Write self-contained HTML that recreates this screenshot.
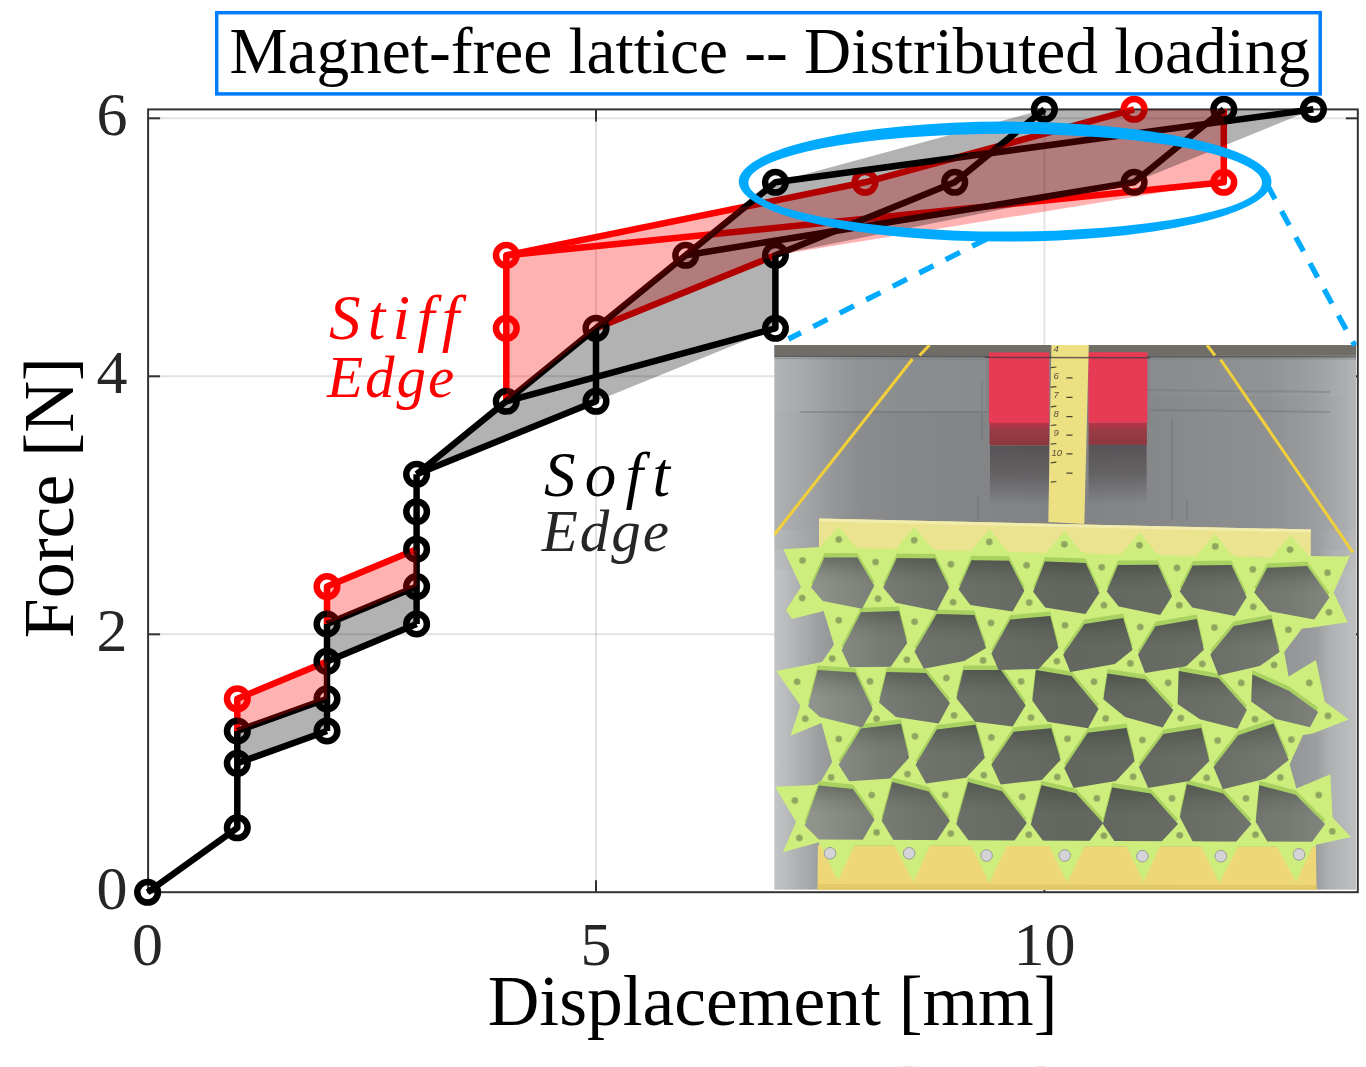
<!DOCTYPE html>
<html><head><meta charset="utf-8"><title>Magnet-free lattice -- Distributed loading</title>
<style>html,body{margin:0;padding:0;background:#fff;overflow:hidden}svg{display:block}</style></head>
<body>
<svg width="1366" height="1067" viewBox="0 0 1366 1067">
<rect width="1366" height="1067" fill="#fff"/>
<g stroke="#262626" stroke-opacity="0.13" stroke-width="2" fill="none">
<line x1="596.0" y1="109.4" x2="596.0" y2="892.2"/>
<line x1="1044.4" y1="109.4" x2="1044.4" y2="892.2"/>
<line x1="148.1" y1="634.3" x2="1357.8" y2="634.3"/>
<line x1="148.1" y1="376.3" x2="1357.8" y2="376.3"/>
<line x1="148.1" y1="118.3" x2="1357.8" y2="118.3"/>
</g>
<g stroke="#333" stroke-width="2" fill="none">
<rect x="148.1" y="109.4" width="1209.7" height="782.8000000000001"/>
<line x1="596.0" y1="892.2" x2="596.0" y2="880.2"/>
<line x1="596.0" y1="109.4" x2="596.0" y2="121.4"/>
<line x1="1044.4" y1="892.2" x2="1044.4" y2="880.2"/>
<line x1="1044.4" y1="109.4" x2="1044.4" y2="121.4"/>
<line x1="148.1" y1="634.3" x2="160.1" y2="634.3"/>
<line x1="1357.8" y1="634.3" x2="1345.8" y2="634.3"/>
<line x1="148.1" y1="376.3" x2="160.1" y2="376.3"/>
<line x1="1357.8" y1="376.3" x2="1345.8" y2="376.3"/>
<line x1="148.1" y1="118.3" x2="160.1" y2="118.3"/>
<line x1="1357.8" y1="118.3" x2="1345.8" y2="118.3"/>
</g>
<g stroke="#f00" stroke-width="6.5" fill="none" stroke-linejoin="round" stroke-linecap="butt">
<polyline points="237.3,731.0 237.3,698.8 327.0,661.4"/>
<polyline points="327.0,624.0 327.0,586.6 416.6,549.2"/>
<polyline points="506.3,401.3 506.3,255.3 865.0,182.3 1134.1,109.3"/>
<polyline points="506.3,255.3 1223.8,182.3 1223.8,109.3"/>
<polyline points="596.0,328.3 775.4,255.3"/>
<circle cx="237.3" cy="698.8" r="10.3"/>
<circle cx="327.0" cy="586.6" r="10.3"/>
<circle cx="506.3" cy="328.3" r="10.3"/>
<circle cx="506.3" cy="255.3" r="10.3"/>
<circle cx="865.0" cy="182.3" r="10.3"/>
<circle cx="1134.1" cy="109.3" r="10.3"/>
<circle cx="1223.8" cy="182.3" r="10.3"/>
</g>
<g stroke="#000" stroke-width="6.5" fill="none" stroke-linejoin="round" stroke-linecap="butt">
<polyline points="147.6,892.3 237.3,827.8 237.3,731.0"/>
<polyline points="237.3,763.3 327.0,731.0"/>
<polyline points="237.3,731.0 327.0,698.8"/>
<polyline points="327.0,731.0 327.0,624.0"/>
<polyline points="327.0,661.4 416.6,624.0"/>
<polyline points="327.0,624.0 416.6,586.6"/>
<polyline points="416.6,624.0 416.6,474.3"/>
<polyline points="416.6,474.3 506.3,401.3 596.0,328.3 685.7,255.3 775.4,182.3 1313.4,109.3"/>
<polyline points="416.6,474.3 596.0,401.3 596.0,328.3"/>
<polyline points="506.3,401.3 775.4,328.3 775.4,255.3 954.7,182.3 1044.4,109.3"/>
<polyline points="685.7,255.3 1134.1,182.3 1223.8,109.3"/>
<circle cx="147.6" cy="892.3" r="10.3"/>
<circle cx="237.3" cy="827.8" r="10.3"/>
<circle cx="237.3" cy="763.3" r="10.3"/>
<circle cx="237.3" cy="731.0" r="10.3"/>
<circle cx="327.0" cy="731.0" r="10.3"/>
<circle cx="327.0" cy="698.8" r="10.3"/>
<circle cx="327.0" cy="661.4" r="10.3"/>
<circle cx="327.0" cy="624.0" r="10.3"/>
<circle cx="416.6" cy="624.0" r="10.3"/>
<circle cx="416.6" cy="586.6" r="10.3"/>
<circle cx="416.6" cy="549.2" r="10.3"/>
<circle cx="416.6" cy="511.7" r="10.3"/>
<circle cx="416.6" cy="474.3" r="10.3"/>
<circle cx="506.3" cy="401.3" r="10.3"/>
<circle cx="596.0" cy="401.3" r="10.3"/>
<circle cx="596.0" cy="328.3" r="10.3"/>
<circle cx="685.7" cy="255.3" r="10.3"/>
<circle cx="775.4" cy="328.3" r="10.3"/>
<circle cx="775.4" cy="255.3" r="10.3"/>
<circle cx="775.4" cy="182.3" r="10.3"/>
<circle cx="954.7" cy="182.3" r="10.3"/>
<circle cx="1044.4" cy="109.3" r="10.3"/>
<circle cx="1134.1" cy="182.3" r="10.3"/>
<circle cx="1223.8" cy="109.3" r="10.3"/>
<circle cx="1313.4" cy="109.3" r="10.3"/>
</g>
<clipPath id="axc"><rect x="148.1" y="109.4" width="1209.7" height="782.8000000000001"/></clipPath>
<polygon points="237.3,731.0 237.3,698.8 327.0,661.4 327.0,586.6 416.6,549.2 416.6,474.3 506.3,401.3 506.3,255.3 865.0,182.3 1134.1,109.3 1223.8,109.3 1223.8,182.3 775.4,255.3 596.0,328.3 506.3,401.3 416.6,474.3 416.6,586.6 327.0,624.0 327.0,698.8" fill="#f00" fill-opacity="0.3" clip-path="url(#axc)"/>
<polygon points="147.6,892.3 237.3,827.8 237.3,731.0 327.0,698.8 327.0,624.0 416.6,586.6 416.6,474.3 506.3,401.3 596.0,328.3 685.7,255.3 775.4,182.3 1044.4,109.3 1313.4,109.3 1134.1,182.3 775.4,255.3 775.4,328.3 596.0,401.3 416.6,474.3 416.6,624.0 327.0,661.4 327.0,731.0 237.3,763.3 237.3,827.8" fill="#000" fill-opacity="0.3" clip-path="url(#axc)"/>
<defs>
<clipPath id="pc"><rect x="774.2" y="345.1" width="581.8999999999999" height="544.6999999999999"/></clipPath>
<linearGradient id="bgx" x1="0" y1="0" x2="1" y2="0"><stop offset="0.0" stop-color="rgb(175,177,179)"/><stop offset="0.0272" stop-color="rgb(168,170,172)"/><stop offset="0.0546" stop-color="rgb(163,165,167)"/><stop offset="0.0959" stop-color="rgb(150,152,154)"/><stop offset="0.1474" stop-color="rgb(138,140,142)"/><stop offset="0.2162" stop-color="rgb(133,135,137)"/><stop offset="0.3399" stop-color="rgb(131,133,135)"/><stop offset="0.4911" stop-color="rgb(128,130,132)"/><stop offset="0.6458" stop-color="rgb(133,135,137)"/><stop offset="0.7317" stop-color="rgb(137,139,141)"/><stop offset="0.852" stop-color="rgb(142,144,146)"/><stop offset="0.9036" stop-color="rgb(150,152,154)"/><stop offset="0.938" stop-color="rgb(157,159,161)"/><stop offset="0.9809" stop-color="rgb(170,172,174)"/><stop offset="1.0" stop-color="rgb(180,182,184)"/></linearGradient>
<linearGradient id="hg" gradientUnits="userSpaceOnUse" x1="800" y1="0" x2="1330" y2="0"><stop offset="0.0" stop-color="rgb(146,150,143)"/><stop offset="0.0245" stop-color="rgb(144,148,141)"/><stop offset="0.0755" stop-color="rgb(134,138,131)"/><stop offset="0.1509" stop-color="rgb(120,124,117)"/><stop offset="0.2453" stop-color="rgb(110,114,107)"/><stop offset="0.3585" stop-color="rgb(105,109,102)"/><stop offset="0.5019" stop-color="rgb(98,102,95)"/><stop offset="0.6415" stop-color="rgb(101,105,98)"/><stop offset="0.783" stop-color="rgb(107,111,104)"/><stop offset="0.9245" stop-color="rgb(118,122,115)"/><stop offset="1.0" stop-color="rgb(130,134,127)"/></linearGradient>
<linearGradient id="rbf" x1="0" y1="0" x2="0" y2="1"><stop offset="0" stop-color="#bb3349"/><stop offset="0.3" stop-color="#9b3a44"/><stop offset="1" stop-color="#8c373e"/></linearGradient>
<linearGradient id="shd" x1="0" y1="0" x2="0" y2="1"><stop offset="0" stop-color="#3a3034" stop-opacity="0.6"/><stop offset="0.5" stop-color="#3c3436" stop-opacity="0.42"/><stop offset="1" stop-color="#40383a" stop-opacity="0"/></linearGradient>
<linearGradient id="lol" x1="0" y1="0" x2="1" y2="0"><stop offset="0" stop-color="#fff" stop-opacity="0.27"/><stop offset="0.28" stop-color="#fff" stop-opacity="0.2"/><stop offset="0.6" stop-color="#fff" stop-opacity="0.09"/><stop offset="1" stop-color="#fff" stop-opacity="0"/></linearGradient>
<linearGradient id="lor" x1="0" y1="0" x2="1" y2="0"><stop offset="0" stop-color="#fff" stop-opacity="0"/><stop offset="0.35" stop-color="#fff" stop-opacity="0"/><stop offset="0.6" stop-color="#fff" stop-opacity="0.16"/><stop offset="1" stop-color="#fff" stop-opacity="0.16"/></linearGradient>
<linearGradient id="hsh" x1="0" y1="0" x2="0" y2="1"><stop offset="0" stop-color="#1c2418" stop-opacity="0.3"/><stop offset="0.3" stop-color="#1c2418" stop-opacity="0.08"/><stop offset="0.5" stop-color="#1c2418" stop-opacity="0"/></linearGradient>
</defs>
<g clip-path="url(#pc)">
<rect x="774.2" y="345.1" width="581.8999999999999" height="544.6999999999999" fill="url(#bgx)"/>
<rect x="774.2" y="530" width="44" height="359.79999999999995" fill="url(#lol)" opacity="0.33"/>
<rect x="1295" y="530" width="61.09999999999991" height="359.79999999999995" fill="url(#lor)" opacity="0.33"/>
<rect x="774.2" y="550" width="44" height="339.79999999999995" fill="url(#lol)" opacity="0.33"/>
<rect x="1295" y="550" width="61.09999999999991" height="339.79999999999995" fill="url(#lor)" opacity="0.33"/>
<rect x="774.2" y="570" width="44" height="319.79999999999995" fill="url(#lol)" opacity="0.34"/>
<rect x="1295" y="570" width="61.09999999999991" height="319.79999999999995" fill="url(#lor)" opacity="0.34"/>
<rect x="774.2" y="345.1" width="581.8999999999999" height="10.6" fill="#706d67"/>
<line x1="774.2" y1="356.3" x2="1356.1" y2="356.9" stroke="#5a5a5c" stroke-width="1.4"/>
<line x1="774.2" y1="358.4" x2="1356.1" y2="359" stroke="#85878b" stroke-width="1.2" opacity="0.7"/>
<g stroke="#6a6b70" stroke-width="2" opacity="0.35">
<line x1="800" y1="412" x2="990" y2="412"/><line x1="1140" y1="390" x2="1330" y2="392"/><line x1="1150" y1="410" x2="1330" y2="412"/>
<line x1="982" y1="380" x2="982" y2="440"/><line x1="978" y1="495" x2="978" y2="520"/><line x1="1172" y1="420" x2="1172" y2="520"/><line x1="1187" y1="500" x2="1187" y2="520"/>
</g>
<rect x="774" y="360" width="212" height="51" fill="#c9ccd0" opacity="0.1"/>
<rect x="1150" y="360" width="207" height="36" fill="#c9ccd0" opacity="0.06"/>
<g stroke="#f1d03a" stroke-width="3" stroke-linecap="butt">
<line x1="929.6" y1="345" x2="919.5" y2="355.5"/><line x1="912.5" y1="359" x2="774" y2="535"/>
<line x1="1207" y1="345" x2="1215" y2="355.5"/><line x1="1220.5" y1="359.5" x2="1353" y2="552.5"/>
</g>
<rect x="988.9" y="352.4" width="60.4" height="70.6" fill="#e63a55"/>
<rect x="989.6" y="422.8" width="59.5" height="22.4" fill="url(#rbf)"/>
<rect x="1088.4" y="352.2" width="59" height="70.6" fill="#e63a55"/>
<rect x="1088.6" y="422.8" width="58.3" height="22" fill="url(#rbf)"/>
<rect x="990" y="445.5" width="59" height="60" fill="url(#shd)"/>
<rect x="1088.6" y="444.8" width="58" height="60" fill="url(#shd)"/>
<polygon points="1051.4,345.0 1088.8,345.0 1084.3,524.0 1048.3,522.0" fill="#ede083"/>
<g font-family="'Liberation Sans', sans-serif" font-size="9.5" fill="#55503a" font-style="italic">
<text x="1053.5" y="352">4</text>
<text x="1053.5" y="378.5">6</text>
<text x="1053.5" y="398">7</text>
<text x="1053.5" y="417">8</text>
<text x="1053.5" y="436">9</text>
<text x="1051.5" y="455.5">10</text>
</g>
<g stroke="#4a452f" stroke-width="1.2">
<line x1="1050.8" y1="367.6" x2="1056.4" y2="367.0"/>
<line x1="1050.8" y1="387.2" x2="1056.4" y2="386.59999999999997"/>
<line x1="1050.8" y1="406.8" x2="1056.4" y2="406.2"/>
<line x1="1050.8" y1="425.5" x2="1056.4" y2="424.9"/>
<line x1="1050.8" y1="444.1" x2="1056.4" y2="443.5"/>
<line x1="1050.8" y1="462.8" x2="1056.4" y2="462.2"/>
<line x1="1050.8" y1="482.1" x2="1056.4" y2="481.5"/>
<line x1="1066.4" y1="377.9" x2="1072.5" y2="377.9"/>
<line x1="1066.4" y1="397.3" x2="1072.5" y2="397.3"/>
<line x1="1066.4" y1="416.6" x2="1072.5" y2="416.6"/>
<line x1="1066.4" y1="435.2" x2="1072.5" y2="435.2"/>
<line x1="1066.4" y1="453.9" x2="1072.5" y2="453.9"/>
<line x1="1066.4" y1="473.2" x2="1072.5" y2="473.2"/>
</g>
<line x1="985" y1="357.4" x2="1150" y2="357.8" stroke="#4b3a40" stroke-width="1.4" opacity="0.8"/>
<polygon points="819.0,518.6 1310.8,529.5 1310.8,558.5 819.0,550.6" fill="#ebe390"/>
<polygon points="819.0,518.6 1310.8,529.5 1310.8,532.5 819.0,521.6" fill="#f2ecad"/>
<polygon points="817.9,845.5 1315.9,846.5 1316.5,890.0 817.5,890.0" fill="#edd777"/>
<polygon points="817.9,884.0 1316.3,885.0 1316.5,890.0 817.5,890.0" fill="#e3c968"/>
<polygon points="819.7,547.0 838.6,526.8 852.5,543.5 858.0,548.2 896.0,549.0 914.2,526.4 931.0,547.0 936.0,550.0 971.0,551.0 989.4,529.0 1006.0,549.5 1011.0,552.0 1046.0,553.0 1064.6,531.0 1081.0,551.5 1086.0,553.6 1121.0,554.4 1139.6,532.6 1156.0,553.0 1161.0,555.2 1196.0,556.0 1215.2,534.0 1231.0,554.6 1236.0,556.8 1271.0,557.6 1290.6,535.6 1309.3,556.0 1345.0,556.4 1350.2,555.2 1333.6,592.6 1347.8,622.2 1310.6,627.8 1302.0,628.5 1284.2,652.0 1288.6,676.6 1316.0,660.0 1324.8,701.8 1348.8,719.4 1312.8,733.6 1303.0,735.0 1289.6,764.4 1296.4,788.6 1330.4,774.2 1332.6,817.4 1351.0,837.0 1316.0,844.8 1313.7,844.0 1296.1,882.0 1276.3,845.0 1239.0,845.0 1219.2,883.0 1200.6,845.0 1161.0,844.2 1143.5,882.0 1125.9,844.8 1086.0,844.0 1067.0,882.6 1048.5,844.0 1007.9,843.8 989.2,883.0 970.6,844.6 931.0,842.8 913.5,882.0 893.7,844.2 856.4,841.6 837.7,880.8 819.0,842.2 782.8,852.2 796.0,822.0 775.1,786.8 813.8,785.0 820.0,783.0 832.2,762.0 821.5,723.0 790.5,735.7 800.4,705.5 776.2,670.9 814.6,663.4 822.0,662.0 834.0,644.4 823.6,611.0 792.0,619.0 786.0,610.0 801.0,587.0 783.3,549.2" fill="#cdee7c"/>
<polygon points="824.4,553.1 857.4,553.1 874.3,581.2 862.1,604.2 822.8,596.4 811.1,583.0" fill="#a9d162"/>
<polygon points="896.8,553.6 935.1,554.1 949.1,582.9 936.7,606.5 895.7,598.2 883.2,582.9" fill="#a9d162"/>
<polygon points="971.5,555.8 1009.1,556.2 1024.4,586.3 1012.6,606.9 970.3,600.4 958.6,585.1" fill="#a9d162"/>
<polygon points="1044.9,556.9 1085.7,558.4 1099.5,588.3 1085.5,609.4 1045.2,602.9 1033.1,587.2" fill="#a9d162"/>
<polygon points="1117.9,560.5 1157.8,560.2 1172.0,591.7 1160.2,610.4 1118.7,602.0 1106.7,587.0" fill="#a9d162"/>
<polygon points="1192.7,561.1 1231.4,560.4 1246.7,592.8 1234.9,611.6 1192.2,603.0 1179.7,587.0" fill="#a9d162"/>
<polygon points="1267.2,563.3 1307.1,561.4 1329.5,592.7 1314.2,615.0 1269.5,606.6 1254.2,587.8" fill="#a9d162"/>
<polygon points="861.0,607.8 899.0,606.4 907.2,638.4 890.7,662.3 849.7,662.8 841.6,645.4" fill="#a9d162"/>
<polygon points="936.7,609.4 974.4,610.6 986.1,643.4 964.2,656.4 923.8,664.2 914.5,647.0" fill="#a9d162"/>
<polygon points="1010.3,615.1 1050.2,611.5 1058.4,643.2 1038.5,664.4 998.5,665.6 991.4,649.1" fill="#a9d162"/>
<polygon points="1084.4,619.4 1123.1,613.5 1132.6,645.3 1114.9,659.4 1070.3,667.6 1063.2,650.0" fill="#a9d162"/>
<polygon points="1155.6,621.7 1196.8,614.6 1203.9,645.2 1186.2,661.7 1145.1,668.6 1138.0,649.9" fill="#a9d162"/>
<polygon points="1233.8,621.6 1271.5,614.6 1279.6,647.5 1259.7,661.6 1218.5,670.9 1210.3,649.9" fill="#a9d162"/>
<polygon points="817.6,665.5 855.2,667.9 872.8,705.0 862.3,723.1 819.9,712.5 808.2,701.9" fill="#a9d162"/>
<polygon points="886.5,667.5 926.0,668.4 949.9,698.5 938.7,719.1 895.9,712.6 879.0,698.1" fill="#a9d162"/>
<polygon points="963.4,665.6 1001.0,665.6 1025.7,700.8 1012.7,722.0 975.2,717.3 956.4,693.8" fill="#a9d162"/>
<polygon points="1035.9,665.5 1071.6,671.4 1098.6,704.2 1088.1,723.7 1047.5,717.2 1032.3,696.0" fill="#a9d162"/>
<polygon points="1107.5,669.0 1145.2,674.8 1173.3,705.4 1162.7,723.0 1125.2,712.4 1103.3,694.8" fill="#a9d162"/>
<polygon points="1178.8,666.6 1218.7,673.7 1246.9,705.3 1237.5,724.2 1199.9,714.7 1177.6,699.4" fill="#a9d162"/>
<polygon points="1252.4,670.0 1288.8,686.3 1318.2,707.5 1310.0,722.8 1275.8,714.6 1251.2,696.9" fill="#a9d162"/>
<polygon points="861.0,723.9 900.9,719.2 909.1,753.2 890.3,774.0 849.2,776.8 838.6,760.3" fill="#a9d162"/>
<polygon points="936.7,725.0 975.5,720.3 984.9,753.2 966.1,773.2 926.1,779.1 915.6,760.2" fill="#a9d162"/>
<polygon points="1013.7,727.3 1051.2,723.7 1060.6,755.4 1041.8,775.4 1000.7,780.1 991.3,760.1" fill="#a9d162"/>
<polygon points="1087.8,728.3 1126.5,723.6 1134.7,756.5 1115.9,776.5 1073.6,783.5 1064.2,763.5" fill="#a9d162"/>
<polygon points="1163.5,729.5 1201.2,723.6 1209.4,756.5 1189.4,776.5 1148.2,783.5 1138.9,762.4" fill="#a9d162"/>
<polygon points="1238.2,730.8 1273.4,719.0 1288.7,755.4 1265.3,774.2 1222.9,784.8 1213.5,762.4" fill="#a9d162"/>
<polygon points="818.8,781.0 852.9,784.4 874.5,815.0 862.3,836.2 820.0,836.2 804.7,820.9" fill="#a9d162"/>
<polygon points="892.3,777.4 928.7,786.9 949.9,816.2 935.7,837.4 894.6,837.4 881.7,816.2" fill="#a9d162"/>
<polygon points="968.1,777.4 1002.1,786.8 1026.8,818.4 1012.7,838.5 970.5,838.5 956.3,819.6" fill="#a9d162"/>
<polygon points="1041.5,780.8 1075.8,788.8 1103.2,818.4 1088.0,838.4 1044.7,838.4 1030.8,819.9" fill="#a9d162"/>
<polygon points="1112.2,783.0 1150.9,788.9 1178.0,819.5 1160.3,838.4 1115.7,838.4 1102.8,819.5" fill="#a9d162"/>
<polygon points="1186.9,779.7 1223.3,789.0 1251.5,819.6 1235.0,838.5 1192.8,837.3 1179.8,812.6" fill="#a9d162"/>
<polygon points="1259.3,780.8 1295.6,790.2 1325.1,819.6 1312.1,837.2 1267.5,837.2 1255.7,817.2" fill="#a9d162"/>
<polygon points="824.4,557.6 857.4,557.6 874.3,585.7 862.1,608.7 822.8,600.9 811.1,587.5" fill="url(#hg)"/><polygon points="824.4,557.6 857.4,557.6 874.3,585.7 862.1,608.7 822.8,600.9 811.1,587.5" fill="url(#hsh)"/>
<polygon points="896.8,558.1 935.1,558.6 949.1,587.4 936.7,611.0 895.7,602.7 883.2,587.4" fill="url(#hg)"/><polygon points="896.8,558.1 935.1,558.6 949.1,587.4 936.7,611.0 895.7,602.7 883.2,587.4" fill="url(#hsh)"/>
<polygon points="971.5,560.3 1009.1,560.7 1024.4,590.8 1012.6,611.4 970.3,604.9 958.6,589.6" fill="url(#hg)"/><polygon points="971.5,560.3 1009.1,560.7 1024.4,590.8 1012.6,611.4 970.3,604.9 958.6,589.6" fill="url(#hsh)"/>
<polygon points="1044.9,561.4 1085.7,562.9 1099.5,592.8 1085.5,613.9 1045.2,607.4 1033.1,591.7" fill="url(#hg)"/><polygon points="1044.9,561.4 1085.7,562.9 1099.5,592.8 1085.5,613.9 1045.2,607.4 1033.1,591.7" fill="url(#hsh)"/>
<polygon points="1117.9,565.0 1157.8,564.7 1172.0,596.2 1160.2,614.9 1118.7,606.5 1106.7,591.5" fill="url(#hg)"/><polygon points="1117.9,565.0 1157.8,564.7 1172.0,596.2 1160.2,614.9 1118.7,606.5 1106.7,591.5" fill="url(#hsh)"/>
<polygon points="1192.7,565.6 1231.4,564.9 1246.7,597.3 1234.9,616.1 1192.2,607.5 1179.7,591.5" fill="url(#hg)"/><polygon points="1192.7,565.6 1231.4,564.9 1246.7,597.3 1234.9,616.1 1192.2,607.5 1179.7,591.5" fill="url(#hsh)"/>
<polygon points="1267.2,567.8 1307.1,565.9 1329.5,597.2 1314.2,619.5 1269.5,611.1 1254.2,592.3" fill="url(#hg)"/><polygon points="1267.2,567.8 1307.1,565.9 1329.5,597.2 1314.2,619.5 1269.5,611.1 1254.2,592.3" fill="url(#hsh)"/>
<polygon points="861.0,612.3 899.0,610.9 907.2,642.9 890.7,666.8 849.7,667.3 841.6,649.9" fill="url(#hg)"/><polygon points="861.0,612.3 899.0,610.9 907.2,642.9 890.7,666.8 849.7,667.3 841.6,649.9" fill="url(#hsh)"/>
<polygon points="936.7,613.9 974.4,615.1 986.1,647.9 964.2,660.9 923.8,668.7 914.5,651.5" fill="url(#hg)"/><polygon points="936.7,613.9 974.4,615.1 986.1,647.9 964.2,660.9 923.8,668.7 914.5,651.5" fill="url(#hsh)"/>
<polygon points="1010.3,619.6 1050.2,616.0 1058.4,647.7 1038.5,668.9 998.5,670.1 991.4,653.6" fill="url(#hg)"/><polygon points="1010.3,619.6 1050.2,616.0 1058.4,647.7 1038.5,668.9 998.5,670.1 991.4,653.6" fill="url(#hsh)"/>
<polygon points="1084.4,623.9 1123.1,618.0 1132.6,649.8 1114.9,663.9 1070.3,672.1 1063.2,654.5" fill="url(#hg)"/><polygon points="1084.4,623.9 1123.1,618.0 1132.6,649.8 1114.9,663.9 1070.3,672.1 1063.2,654.5" fill="url(#hsh)"/>
<polygon points="1155.6,626.2 1196.8,619.1 1203.9,649.7 1186.2,666.2 1145.1,673.1 1138.0,654.4" fill="url(#hg)"/><polygon points="1155.6,626.2 1196.8,619.1 1203.9,649.7 1186.2,666.2 1145.1,673.1 1138.0,654.4" fill="url(#hsh)"/>
<polygon points="1233.8,626.1 1271.5,619.1 1279.6,652.0 1259.7,666.1 1218.5,675.4 1210.3,654.4" fill="url(#hg)"/><polygon points="1233.8,626.1 1271.5,619.1 1279.6,652.0 1259.7,666.1 1218.5,675.4 1210.3,654.4" fill="url(#hsh)"/>
<polygon points="817.6,670.0 855.2,672.4 872.8,709.5 862.3,727.6 819.9,717.0 808.2,706.4" fill="url(#hg)"/><polygon points="817.6,670.0 855.2,672.4 872.8,709.5 862.3,727.6 819.9,717.0 808.2,706.4" fill="url(#hsh)"/>
<polygon points="886.5,672.0 926.0,672.9 949.9,703.0 938.7,723.6 895.9,717.1 879.0,702.6" fill="url(#hg)"/><polygon points="886.5,672.0 926.0,672.9 949.9,703.0 938.7,723.6 895.9,717.1 879.0,702.6" fill="url(#hsh)"/>
<polygon points="963.4,670.1 1001.0,670.1 1025.7,705.3 1012.7,726.5 975.2,721.8 956.4,698.3" fill="url(#hg)"/><polygon points="963.4,670.1 1001.0,670.1 1025.7,705.3 1012.7,726.5 975.2,721.8 956.4,698.3" fill="url(#hsh)"/>
<polygon points="1035.9,670.0 1071.6,675.9 1098.6,708.7 1088.1,728.2 1047.5,721.7 1032.3,700.5" fill="url(#hg)"/><polygon points="1035.9,670.0 1071.6,675.9 1098.6,708.7 1088.1,728.2 1047.5,721.7 1032.3,700.5" fill="url(#hsh)"/>
<polygon points="1107.5,673.5 1145.2,679.3 1173.3,709.9 1162.7,727.5 1125.2,716.9 1103.3,699.3" fill="url(#hg)"/><polygon points="1107.5,673.5 1145.2,679.3 1173.3,709.9 1162.7,727.5 1125.2,716.9 1103.3,699.3" fill="url(#hsh)"/>
<polygon points="1178.8,671.1 1218.7,678.2 1246.9,709.8 1237.5,728.7 1199.9,719.2 1177.6,703.9" fill="url(#hg)"/><polygon points="1178.8,671.1 1218.7,678.2 1246.9,709.8 1237.5,728.7 1199.9,719.2 1177.6,703.9" fill="url(#hsh)"/>
<polygon points="1252.4,674.5 1288.8,690.8 1318.2,712.0 1310.0,727.3 1275.8,719.1 1251.2,701.4" fill="url(#hg)"/><polygon points="1252.4,674.5 1288.8,690.8 1318.2,712.0 1310.0,727.3 1275.8,719.1 1251.2,701.4" fill="url(#hsh)"/>
<polygon points="861.0,728.4 900.9,723.7 909.1,757.7 890.3,778.5 849.2,781.3 838.6,764.8" fill="url(#hg)"/><polygon points="861.0,728.4 900.9,723.7 909.1,757.7 890.3,778.5 849.2,781.3 838.6,764.8" fill="url(#hsh)"/>
<polygon points="936.7,729.5 975.5,724.8 984.9,757.7 966.1,777.7 926.1,783.6 915.6,764.7" fill="url(#hg)"/><polygon points="936.7,729.5 975.5,724.8 984.9,757.7 966.1,777.7 926.1,783.6 915.6,764.7" fill="url(#hsh)"/>
<polygon points="1013.7,731.8 1051.2,728.2 1060.6,759.9 1041.8,779.9 1000.7,784.6 991.3,764.6" fill="url(#hg)"/><polygon points="1013.7,731.8 1051.2,728.2 1060.6,759.9 1041.8,779.9 1000.7,784.6 991.3,764.6" fill="url(#hsh)"/>
<polygon points="1087.8,732.8 1126.5,728.1 1134.7,761.0 1115.9,781.0 1073.6,788.0 1064.2,768.0" fill="url(#hg)"/><polygon points="1087.8,732.8 1126.5,728.1 1134.7,761.0 1115.9,781.0 1073.6,788.0 1064.2,768.0" fill="url(#hsh)"/>
<polygon points="1163.5,734.0 1201.2,728.1 1209.4,761.0 1189.4,781.0 1148.2,788.0 1138.9,766.9" fill="url(#hg)"/><polygon points="1163.5,734.0 1201.2,728.1 1209.4,761.0 1189.4,781.0 1148.2,788.0 1138.9,766.9" fill="url(#hsh)"/>
<polygon points="1238.2,735.3 1273.4,723.5 1288.7,759.9 1265.3,778.7 1222.9,789.3 1213.5,766.9" fill="url(#hg)"/><polygon points="1238.2,735.3 1273.4,723.5 1288.7,759.9 1265.3,778.7 1222.9,789.3 1213.5,766.9" fill="url(#hsh)"/>
<polygon points="818.8,785.5 852.9,788.9 874.5,819.5 862.3,840.7 820.0,840.7 804.7,825.4" fill="url(#hg)"/><polygon points="818.8,785.5 852.9,788.9 874.5,819.5 862.3,840.7 820.0,840.7 804.7,825.4" fill="url(#hsh)"/>
<polygon points="892.3,781.9 928.7,791.4 949.9,820.7 935.7,841.9 894.6,841.9 881.7,820.7" fill="url(#hg)"/><polygon points="892.3,781.9 928.7,791.4 949.9,820.7 935.7,841.9 894.6,841.9 881.7,820.7" fill="url(#hsh)"/>
<polygon points="968.1,781.9 1002.1,791.3 1026.8,822.9 1012.7,843.0 970.5,843.0 956.3,824.1" fill="url(#hg)"/><polygon points="968.1,781.9 1002.1,791.3 1026.8,822.9 1012.7,843.0 970.5,843.0 956.3,824.1" fill="url(#hsh)"/>
<polygon points="1041.5,785.3 1075.8,793.3 1103.2,822.9 1088.0,842.9 1044.7,842.9 1030.8,824.4" fill="url(#hg)"/><polygon points="1041.5,785.3 1075.8,793.3 1103.2,822.9 1088.0,842.9 1044.7,842.9 1030.8,824.4" fill="url(#hsh)"/>
<polygon points="1112.2,787.5 1150.9,793.4 1178.0,824.0 1160.3,842.9 1115.7,842.9 1102.8,824.0" fill="url(#hg)"/><polygon points="1112.2,787.5 1150.9,793.4 1178.0,824.0 1160.3,842.9 1115.7,842.9 1102.8,824.0" fill="url(#hsh)"/>
<polygon points="1186.9,784.2 1223.3,793.5 1251.5,824.1 1235.0,843.0 1192.8,841.8 1179.8,817.1" fill="url(#hg)"/><polygon points="1186.9,784.2 1223.3,793.5 1251.5,824.1 1235.0,843.0 1192.8,841.8 1179.8,817.1" fill="url(#hsh)"/>
<polygon points="1259.3,785.3 1295.6,794.7 1325.1,824.1 1312.1,841.7 1267.5,841.7 1255.7,821.7" fill="url(#hg)"/><polygon points="1259.3,785.3 1295.6,794.7 1325.1,824.1 1312.1,841.7 1267.5,841.7 1255.7,821.7" fill="url(#hsh)"/>
<polygon points="819.0,839.6 1316.0,842.0 1316.0,846.8 819.0,845.4" fill="#cdee7c"/>
<g fill="#8fa45f" stroke="#a9c46f" stroke-width="0.7">
<circle cx="838.8" cy="539.5" r="3.3"/>
<circle cx="914.2" cy="540.2" r="3.3"/>
<circle cx="989.3" cy="541.9" r="3.3"/>
<circle cx="1064.4" cy="544.2" r="3.3"/>
<circle cx="1139.5" cy="545.3" r="3.3"/>
<circle cx="1215.3" cy="546.4" r="3.3"/>
<circle cx="1290" cy="549.7" r="3.3"/>
<circle cx="802.5" cy="560.5" r="3.3"/>
<circle cx="875.6" cy="562" r="3.3"/>
<circle cx="950.9" cy="564.2" r="3.3"/>
<circle cx="1026.6" cy="565.3" r="3.3"/>
<circle cx="1101.7" cy="567.2" r="3.3"/>
<circle cx="1177" cy="567.9" r="3.3"/>
<circle cx="1252.8" cy="569.4" r="3.3"/>
<circle cx="1327.5" cy="572.7" r="3.3"/>
<circle cx="802.2" cy="598.1" r="3.3"/>
<circle cx="878" cy="598.8" r="3.3"/>
<circle cx="953.1" cy="602.2" r="3.3"/>
<circle cx="1029.2" cy="602.6" r="3.3"/>
<circle cx="1103.9" cy="605.2" r="3.3"/>
<circle cx="1179.3" cy="605.2" r="3.3"/>
<circle cx="1253.3" cy="606.8" r="3.3"/>
<circle cx="1329" cy="612.2" r="3.3"/>
<circle cx="838.8" cy="620.2" r="3.3"/>
<circle cx="914.6" cy="621.7" r="3.3"/>
<circle cx="991" cy="623" r="3.3"/>
<circle cx="1065" cy="625.3" r="3.3"/>
<circle cx="1140.2" cy="627" r="3.3"/>
<circle cx="1214.4" cy="627.6" r="3.3"/>
<circle cx="1288.4" cy="629.8" r="3.3"/>
<circle cx="832.2" cy="658.6" r="3.3"/>
<circle cx="906.9" cy="659.7" r="3.3"/>
<circle cx="983.1" cy="660.4" r="3.3"/>
<circle cx="1056.9" cy="661.2" r="3.3"/>
<circle cx="1130.3" cy="663.4" r="3.3"/>
<circle cx="1202.3" cy="663.9" r="3.3"/>
<circle cx="1274.1" cy="665" r="3.3"/>
<circle cx="797.1" cy="681.8" r="3.3"/>
<circle cx="870" cy="681.4" r="3.3"/>
<circle cx="946.4" cy="678.1" r="3.3"/>
<circle cx="1021.1" cy="681.4" r="3.3"/>
<circle cx="1094" cy="681.8" r="3.3"/>
<circle cx="1168.1" cy="682.9" r="3.3"/>
<circle cx="1241.2" cy="682.9" r="3.3"/>
<circle cx="1309.3" cy="682.9" r="3.3"/>
<circle cx="805.2" cy="718.7" r="3.3"/>
<circle cx="876.6" cy="718.7" r="3.3"/>
<circle cx="954.1" cy="715.4" r="3.3"/>
<circle cx="1031" cy="717.6" r="3.3"/>
<circle cx="1105.7" cy="718.5" r="3.3"/>
<circle cx="1180.8" cy="718.1" r="3.3"/>
<circle cx="1255" cy="719.2" r="3.3"/>
<circle cx="1328" cy="715.9" r="3.3"/>
<circle cx="838.8" cy="739" r="3.3"/>
<circle cx="915" cy="736.3" r="3.3"/>
<circle cx="991.4" cy="737.4" r="3.3"/>
<circle cx="1067.5" cy="738.8" r="3.3"/>
<circle cx="1142.4" cy="740" r="3.3"/>
<circle cx="1217.7" cy="740.5" r="3.3"/>
<circle cx="1291.3" cy="739.6" r="3.3"/>
<circle cx="831.1" cy="777.4" r="3.3"/>
<circle cx="907.5" cy="774.1" r="3.3"/>
<circle cx="983.8" cy="775.2" r="3.3"/>
<circle cx="1057.3" cy="777" r="3.3"/>
<circle cx="1133.1" cy="776.7" r="3.3"/>
<circle cx="1206.7" cy="777.8" r="3.3"/>
<circle cx="1280.3" cy="777.4" r="3.3"/>
<circle cx="794.9" cy="800.6" r="3.3"/>
<circle cx="871.7" cy="795.1" r="3.3"/>
<circle cx="945.3" cy="795.1" r="3.3"/>
<circle cx="1022.2" cy="796.9" r="3.3"/>
<circle cx="1096.9" cy="798.4" r="3.3"/>
<circle cx="1172" cy="798.4" r="3.3"/>
<circle cx="1246" cy="798.4" r="3.3"/>
<circle cx="1318.7" cy="795.1" r="3.3"/>
<circle cx="799.3" cy="838" r="3.3"/>
<circle cx="876.6" cy="832.5" r="3.3"/>
<circle cx="950.8" cy="833.6" r="3.3"/>
<circle cx="1028.8" cy="834.7" r="3.3"/>
<circle cx="1103.9" cy="835.8" r="3.3"/>
<circle cx="1179.7" cy="835.3" r="3.3"/>
<circle cx="1255.5" cy="834.7" r="3.3"/>
<circle cx="1332.3" cy="831.4" r="3.3"/>
</g>
<g fill="#d4d4d8" stroke="#9a9a9e" stroke-width="1">
<circle cx="830" cy="853.3" r="5.8"/>
<circle cx="909.1" cy="853.3" r="5.8"/>
<circle cx="986.6" cy="855.5" r="5.8"/>
<circle cx="1064.7" cy="855.5" r="5.8"/>
<circle cx="1142.4" cy="856.2" r="5.8"/>
<circle cx="1220.8" cy="856.2" r="5.8"/>
<circle cx="1299" cy="854.4" r="5.8"/>
</g>
</g>
<path d="M738.7,181.6A266.4,60 0 1 0 1271.5,181.6A266.4,60 0 1 0 738.7,181.6ZM748.4000000000001,182.65A256.8,48.95 0 1 0 1262.0,182.65A256.8,48.95 0 1 0 748.4000000000001,182.65Z" fill="#00aaff" fill-rule="evenodd"/>
<line x1="986.5" y1="239" x2="788.5" y2="339" stroke="#00aaff" stroke-width="5.4" stroke-dasharray="16 13.7" stroke-dashoffset="0"/>
<line x1="1266.5" y1="183.5" x2="1354.8" y2="345.5" stroke="#00aaff" stroke-width="5.4" stroke-dasharray="16 13.7" stroke-dashoffset="-1.8"/>
<rect x="216.7" y="12.7" width="1103.5" height="81.2" fill="#fff" stroke="#007dff" stroke-width="3.5"/>
<text x="769.8" y="73" font-family="'Liberation Serif', serif" font-size="65.3" text-anchor="middle" fill="#000">Magnet-free lattice -- Distributed loading</text>
<g font-family="'Liberation Serif', serif" font-size="62" fill="#262626">
<text x="127.5" y="909.3" text-anchor="end">0</text>
<text x="127.5" y="651.3" text-anchor="end">2</text>
<text x="127.5" y="393.3" text-anchor="end">4</text>
<text x="127.5" y="135.3" text-anchor="end">6</text>
<text x="147.6" y="965.3" text-anchor="middle">0</text>
<text x="596.0" y="965.3" text-anchor="middle">5</text>
<text x="1044.4" y="965.3" text-anchor="middle">10</text>
</g>
<text x="772.6" y="1024.8" font-family="'Liberation Serif', serif" font-size="71.5" text-anchor="middle" fill="#000">Displacement [mm]</text>
<text transform="translate(73.3,497.6) rotate(-90)" font-family="'Liberation Serif', serif" font-size="71.8" text-anchor="middle" fill="#000">Force [N]</text>
<g font-family="'Liberation Serif', serif" font-style="italic">
<text x="329" y="338.6" font-size="63" fill="#f00" letter-spacing="7.2">Stiff</text>
<text x="327" y="396.6" font-size="59" fill="#f00" letter-spacing="2">Edge</text>
<text x="544" y="496" font-size="63" fill="#000" letter-spacing="9.3">Soft</text>
<text x="541.7" y="551.3" font-size="59" fill="#262626" letter-spacing="2">Edge</text>
</g>
<path d="M903 1066.3h10M1037 1066.3h9" stroke="#e4e4e4" stroke-width="1"/>
</svg>
</body></html>
